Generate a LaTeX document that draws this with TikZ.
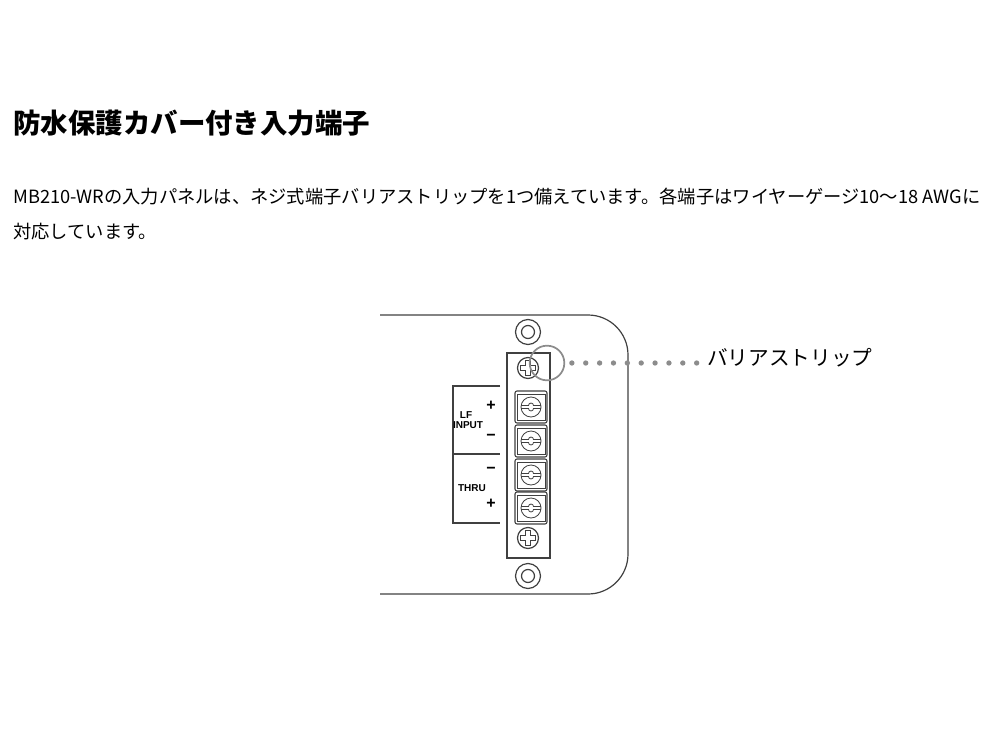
\documentclass[tikz,border=0pt]{standalone}
\usepackage{fontspec}
\setmainfont{Noto Sans CJK JP}
\newfontfamily\lblfont{Liberation Sans}
\begin{document}
\begin{tikzpicture}[x=0.75pt,y=0.75pt,yscale=-1,xscale=1,
  line/.style={draw=black!75,line width=0.9pt},
  term/.style={draw=black!75,line width=0.8pt,rounded corners=1.5pt,minimum size=24pt,inner sep=0pt},
  lbl/.style={inner sep=0.75pt,font=\lblfont\bfseries\fontsize{7.5}{8}\selectfont},
  sign/.style={inner sep=0.75pt,font=\lblfont\bfseries\fontsize{12}{12}\selectfont}]
\useasboundingbox (0,0) rectangle (1000,750);

% Panel outline
\draw [line, rounded corners=30pt] (380,315) -- (628,315) -- (628,594) -- (380,594);

% Barrier strip body
\draw [line, fill=white] (507,353) rectangle (550,558);

% Mounting holes
\foreach \y in {332,576} {
  \draw [line] (528,\y) circle (12.5);
  \draw [line] (528,\y) circle (6.5);
}

% Plus screws
\foreach \y in {368,538} {
  \draw [line] (528,\y) circle (10.5);
  \draw [line, line width=0.6pt] (525.5,\y-7.5) -- (530.5,\y-7.5) -- (530.5,\y-2.5) -- (535.5,\y-2.5) -- (535.5,\y+2.5) -- (530.5,\y+2.5) -- (530.5,\y+7.5) -- (525.5,\y+7.5) -- (525.5,\y+2.5) -- (520.5,\y+2.5) -- (520.5,\y-2.5) -- (525.5,\y-2.5) -- cycle;
}

% Terminals
\foreach \n/\y in {a/407,b/441,c/475,d/508} {
  \node [term] (t\n) at (531,\y) {};
  \draw [line, line width=0.6pt] (517,\y-13) rectangle (545,\y+13);
  \draw [line, line width=0.6pt] (531,\y) circle (10);
  \draw [line, line width=0.6pt] (521,\y-1.5) -- (528.5,\y-1.5) arc (-180:0:2.5) -- (541,\y-1.5);
  \draw [line, line width=0.6pt] (521,\y+1.5) -- (528.5,\y+1.5) arc (180:0:2.5) -- (541,\y+1.5);
}

% Bracket
\draw [line] (500,386) -- (453,386) -- (453,523) -- (500,523);
\draw [line] (453,454) -- (500,454);

% Text Node
\node [sign] (pa) at (491,406) {+};
\node [lbl] (lf) at (466,415) {LF};
\node [lbl] (input) at (468,425) {INPUT};
\node [sign] (ma) at (491,437) {\textminus};
\node [sign] (mb) at (491,470) {\textminus};
\node [lbl] (thru) at (472,488) {THRU};
\node [sign] (pb) at (491,504) {+};

% Highlight and callout
\node [draw=black!45, line width=1.3pt, circle, minimum size=26pt, inner sep=0pt] (hl) at (547,363) {};
\node [anchor=west, inner sep=0.75pt, font=\fontsize{15.5}{16}\selectfont] (callout) at (706,358) {バリアストリップ};
\draw [black!45, line width=4pt, line cap=round, dash pattern=on 0pt off 10.4pt] ([xshift=5pt]hl.east) -- ([xshift=-4pt]callout.west |- hl.east);

% Text Node
\node [anchor=west, inner sep=0pt, font=\bfseries\fontsize{20.6}{22}\selectfont] (title) at (13,123) {防水保護カバー付き入力端子};
\node [anchor=west, inner sep=0pt, font=\fontsize{13.7}{16}\selectfont] (body1) at (13,197) {MB210-WRの入力パネルは、ネジ式端子バリアストリップを1つ備えています。各端子はワイヤーゲージ10〜18 AWGに};
\node [anchor=west, inner sep=0pt, font=\fontsize{13.7}{16}\selectfont] (body2) at (13,232) {対応しています。};
\end{tikzpicture}
\end{document}
